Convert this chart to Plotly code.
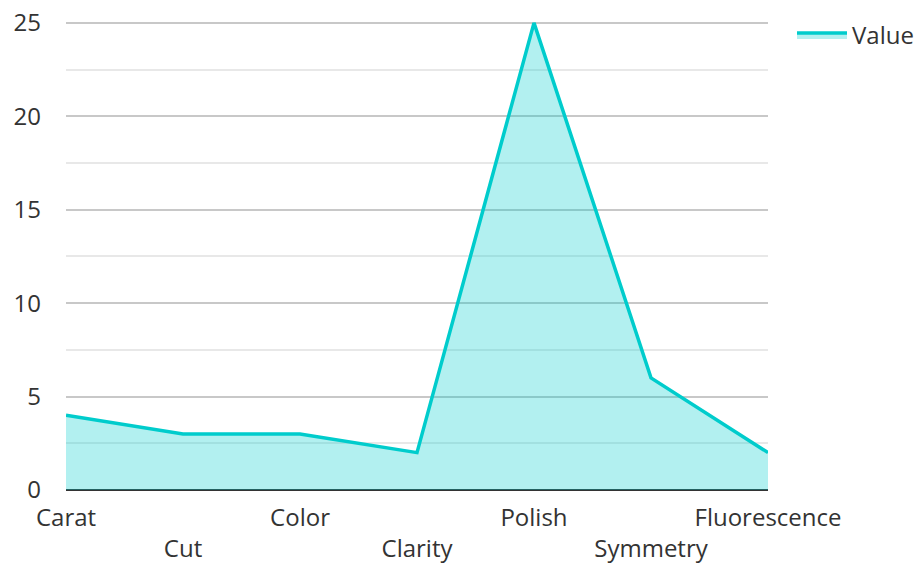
import plotly.graph_objects as go

categories = ["Carat", "Cut", "Color", "Clarity", "Polish", "Symmetry", "Fluorescence"]
values = [4, 3, 3, 2, 25, 6, 2]
y_ticks = [0, 5, 10, 15, 20, 25]

# staggered tick labels: odd positions pushed to second row
tick_text = [c if i % 2 == 0 else "<br>" + c for i, c in enumerate(categories)]

FONT = "Open Sans"
TXT = "#333333"
FS = 24

W, H = 917, 564

fig = go.Figure()
fig.add_trace(go.Scatter(
    x=list(range(len(categories))),
    y=values,
    name="Value",
    mode="lines",
    fill="tozeroy",
    line=dict(color="#00cccc", width=3.5),
    fillcolor="rgba(0,204,204,0.3)",
    cliponaxis=False,
))

fig.update_layout(
    width=W, height=H,
    margin=dict(l=66, r=149, t=21, b=74, autoexpand=False),
    paper_bgcolor="white", plot_bgcolor="white",
    font=dict(family=FONT, size=FS, color=TXT),
    showlegend=True,
    legend=dict(xref="container", yref="container",
                x=792 / W, y=1 - 13 / H, xanchor="left", yanchor="top",
                font=dict(family=FONT, size=FS, color=TXT),
                itemwidth=50,
                bgcolor="rgba(0,0,0,0)"),
    xaxis=dict(
        range=[0, 6],
        tickmode="array",
        tickvals=list(range(len(categories))),
        ticktext=tick_text,
        tickangle=0,
        automargin=False,
        showgrid=False,
        showline=False,
        zeroline=False,
        ticks="",
        ticklabelstandoff=11,
        tickfont=dict(family=FONT, size=FS, color=TXT),
    ),
    yaxis=dict(
        range=[0, 25.1],
        tickmode="array",
        tickvals=y_ticks,
        automargin=False,
        showgrid=True,
        gridcolor="#c8c8c8",
        gridwidth=1.5,
        zeroline=True,
        zerolinecolor="#333333",
        zerolinewidth=2,
        showline=False,
        ticks="",
        ticklabelstandoff=24,
        tickfont=dict(family=FONT, size=FS, color=TXT),
        minor=dict(dtick=2.5, tick0=0, showgrid=True, gridcolor="#e8e8e8", gridwidth=1.5),
    ),
)

# remove the default 8px page margin so the figure fills the window exactly
fig.write_html("out.html", config={"displayModeBar": False},
               post_script="document.body.style.margin='0';")
